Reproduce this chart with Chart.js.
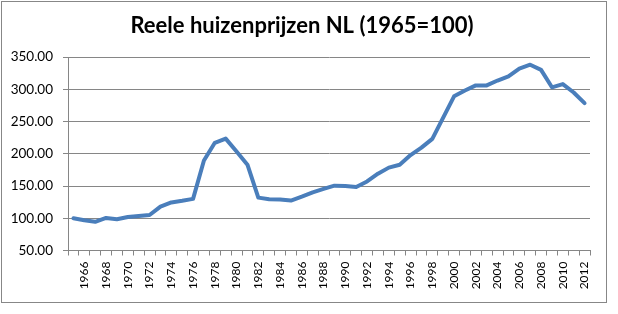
<!DOCTYPE html>
<html>
<head>
<meta charset="utf-8">
<script src="https://cdn.jsdelivr.net/npm/chart.js@4/dist/chart.umd.min.js"></script>
<style>
  html, body { margin: 0; padding: 0; background: #fff; }
  #wrap { position: relative; width: 618px; height: 314px; }
  #frame { position: absolute; left: 1px; top: 1px; width: 604px; height: 300px; border: 1px solid #878787; pointer-events: none; }
</style>
</head>
<body>
<div id="wrap">
  <canvas id="chart" width="618" height="314"></canvas>
  <div id="frame"></div>
</div>
<script>
// Reele huizenprijzen NL, index 1965 = 100
const titel = 'Reele huizenprijzen NL (1965=100)';
const jaren = [
  1965, 1966, 1967, 1968, 1969, 1970, 1971, 1972, 1973, 1974, 1975, 1976,
  1977, 1978, 1979, 1980, 1981, 1982, 1983, 1984, 1985, 1986, 1987, 1988,
  1989, 1990, 1991, 1992, 1993, 1994, 1995, 1996, 1997, 1998, 1999, 2000,
  2001, 2002, 2003, 2004, 2005, 2006, 2007, 2008, 2009, 2010, 2011, 2012
];
const prijzen = [
  100, 97, 94.5, 100.5, 98.5, 102, 103.5, 105, 118, 124.5, 127, 130,
  189.5, 217, 223.5, 203.5, 183, 132, 129.5, 129, 127.5, 133.5, 140, 145.5,
  150.5, 150, 148.5, 157, 169, 178.5, 183, 198, 209.5, 223, 256, 289,
  298, 306, 306, 313.5, 320, 332, 338, 330, 303, 308, 295, 278.5
];
const yMin = 50, yMax = 350, yStap = 50;

const grijs = '#868686';

// titel zelf tekenen zodat hij op dezelfde plek staat als in Excel
const titelPlugin = {
  id: 'titel',
  afterDraw(chart) {
    const ctx = chart.ctx;
    ctx.save();
    ctx.font = 'bold 22px Lato';
    ctx.fillStyle = '#000';
    ctx.textAlign = 'center';
    ctx.textBaseline = 'alphabetic';
    ctx.fillText(titel, 302, 33);
    ctx.restore();
  }
};

new Chart(document.getElementById('chart').getContext('2d'), {
  type: 'line',
  data: {
    labels: jaren,
    datasets: [{
      data: prijzen,
      borderColor: '#4a7ebb',
      borderWidth: 4,
      borderJoinStyle: 'round',
      borderCapStyle: 'round',
      pointRadius: 0,
      tension: 0,
      fill: false
    }]
  },
  options: {
    responsive: false,
    animation: false,
    layout: { padding: { left: 0, right: 28, top: 57, bottom: 0 } },
    plugins: {
      legend: { display: false },
      title: { display: false },
      tooltip: { enabled: false }
    },
    scales: {
      x: {
        offset: true,
        afterFit(scale) { scale.height = 63.5; },
        grid: { offset: true, drawOnChartArea: false, drawTicks: true, tickLength: 5, color: grijs },
        border: { color: grijs, width: 1 },
        ticks: {
          autoSkip: false,
          maxRotation: 90,
          minRotation: 90,
          padding: 6,
          color: '#000',
          font: { family: 'Lato', size: 12 },
          callback: (v, i) => (i % 2 === 1 ? String(jaren[i]) : '')
        }
      },
      y: {
        min: yMin,
        max: yMax,
        afterFit(scale) { scale.width = 68; },
        grid: { color: grijs, lineWidth: 1, tickLength: 5 },
        border: { color: grijs, width: 1 },
        ticks: {
          stepSize: yStap,
          padding: 10,
          color: '#000',
          font: { family: 'Lato', size: 13.5 },
          callback: v => v.toFixed(2)
        }
      }
    }
  },
  plugins: [titelPlugin]
});
</script>
</body>
</html>
